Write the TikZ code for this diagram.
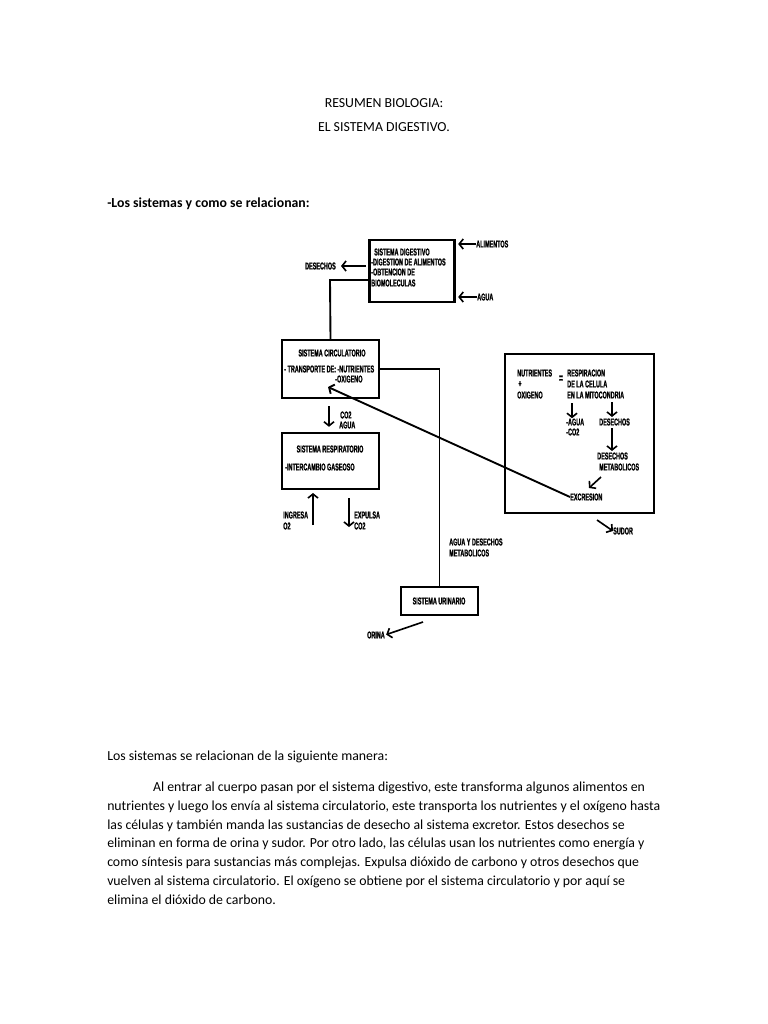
\documentclass[tikz,border=0pt]{standalone}
\usepackage{fontspec}
\setmainfont{Carlito}
\newfontfamily\diagfont[FakeStretch=0.55, FakeBold=1.2]{Liberation Sans Bold}
\usetikzlibrary{arrows.meta}

\tikzset{
  txt/.style={font=\fontsize{11}{14.9}\selectfont, inner sep=0pt},
  lbl/.style={font=\diagfont\fontsize{7.9}{8}\selectfont, inner sep=0pt},
  sysbox/.style 2 args={draw, line width=1.9pt, minimum width=#1*0.797pt, minimum height=#2*0.797pt, inner sep=0pt},
  arr/.style={->, line width=1.3pt},
  wire/.style={line width=1.5pt}
}

\begin{document}
\begin{tikzpicture}[x=0.797pt, y=-0.797pt, >={Straight Barb[length=3.2pt,width=8pt]}]
	\useasboundingbox[fill=white] (0,0) rectangle (768,1024);

	% encabezado
	\node[txt] (tit1) at (384, 103) {RESUMEN BIOLOGIA:};
	\node[txt] (tit2) at (384, 127) {EL SISTEMA DIGESTIVO.};
	\node[txt, anchor=west, font=\fontsize{11}{14.9}\selectfont\bfseries] (sub) at (107, 204) {-Los sistemas y como se relacionan:};

	% cajas
	\node[sysbox={85}{62}] (dig) at (412, 271) {};
	\node[sysbox={97}{58}] (circ) at (330.5, 369) {};
	\node[sysbox={97}{56}] (resp) at (330.5, 461) {};
	\node[sysbox={149}{159}] (cel) at (579.5, 433.5) {};
	\node[sysbox={77}{28}] (uri) at (439.5, 601) {};

	% sistema digestivo
	\node[lbl, anchor=west] (digt) at (374, 252) {SISTEMA DIGESTIVO};
	\node[lbl, anchor=west] (dig1) at (371, 262) {-DIGESTION DE ALIMENTOS};
	\node[lbl, anchor=west] (dig2) at (371, 272) {-OBTENCION DE};
	\node[lbl, anchor=west] (dig3) at (371, 283) {BIOMOLECULAS};
	\node[lbl, anchor=west] (alim) at (476, 244) {ALIMENTOS};
	\node[lbl, anchor=west] (agua) at (477, 297) {AGUA};
	\node[lbl, anchor=east] (des) at (336, 266) {DESECHOS};
	\draw[arr, shorten >=2pt] (alim.west) -- (dig.east |- alim.west);
	\draw[arr, shorten >=2pt] (agua.west) -- (dig.east |- agua.west);
	\draw[arr, shorten <=2pt, shorten >=4pt] (dig.west |- des.east) -- (des.east);

	% sistema circulatorio
	\node[lbl] (circt) at (332, 353) {SISTEMA CIRCULATORIO};
	\node[lbl, anchor=west] (circ1) at (284, 369) {- TRANSPORTE DE: -NUTRIENTES};
	\node[lbl, anchor=west] (circ2) at (335, 379) {-OXIGENO};
	\coordinate (dig-out) at (330, 280);
	\draw[wire] (dig.west |- dig-out) -- (dig-out) -- (circ.north);
	\draw[wire] (circ.east) -| (uri.north);
	\node[lbl, anchor=west] (co2a) at (340, 415) {CO2};
	\node[lbl, anchor=west] (aguaa) at (339, 425) {AGUA};
	\draw[arr, shorten <=5.5pt, shorten >=4pt] ([xshift=-1.2pt]circ.south) -- ([xshift=-1.2pt]resp.north);

	% sistema respiratorio
	\node[lbl] (respt) at (330, 449) {SISTEMA RESPIRATORIO};
	\node[lbl, anchor=west] (resp1) at (285, 467) {-INTERCAMBIO GASEOSO};
	\node[lbl, anchor=west] (ingr) at (283, 515) {INGRESA};
	\node[lbl, anchor=west] (o2) at (283, 526) {O2};
	\node[lbl, anchor=west] (expu) at (354, 515) {EXPULSA};
	\node[lbl, anchor=west] (co2b) at (354, 526) {CO2};
	\coordinate (in-a) at (313, 525);
	\coordinate (in-b) at (313, 493);
	\coordinate (out-a) at (349, 498);
	\coordinate (out-b) at (349, 527);
	\draw[arr] (in-a) -- (in-b);
	\draw[arr] (out-a) -- (out-b);

	% celula
	\node[lbl, anchor=west] (nut) at (517, 373) {NUTRIENTES};
	\node[lbl] (mas) at (520, 384) {+};
	\node[lbl, anchor=west] (oxi) at (517, 395) {OXIGENO};
	\node[lbl, font=\diagfont\fontsize{10}{10}\selectfont] (igual) at (561, 379) {=};
	\node[lbl, anchor=west] (rsp1) at (567, 373) {RESPIRACION};
	\node[lbl, anchor=west] (rsp2) at (567, 384) {DE LA CELULA};
	\node[lbl, anchor=west] (rsp3) at (567, 395) {EN LA MITOCONDRIA};
	\node[lbl, anchor=west] (ag) at (566, 422) {-AGUA};
	\node[lbl, anchor=west] (co2c) at (566, 432) {-CO2};
	\node[lbl, anchor=west] (des2) at (599, 422) {DESECHOS};
	\node[lbl, anchor=west] (desm1) at (597, 456) {DESECHOS};
	\node[lbl, anchor=west] (desm2) at (599, 467) {METABOLICOS};
	\node[lbl, anchor=west] (excr) at (570, 497) {EXCRESION};
	\draw[arr] (572, 403) -- (ag.north -| 572, 0);
	\draw[arr, shorten >=1pt] (612, 402) -- (des2.north -| 612, 0);
	\draw[arr, shorten <=2pt, shorten >=1pt] (des2.south -| 612, 0) -- (desm1.north -| 612, 0);
	\draw[arr] (601, 477) -- (589, 488);
	\coordinate (circ-in) at (328, 387);
	\draw[arr, line width=1.5pt] (excr.west) -- (circ-in);
	\node[lbl, anchor=west] (sud) at (613, 531) {SUDOR};
	\coordinate (sud-a) at (597, 520);
	\draw[arr] (sud-a) -- (sud.west);

	% sistema urinario
	\node[lbl] (urit) at (439, 601) {SISTEMA URINARIO};
	\node[lbl, anchor=west] (aym1) at (449, 542) {AGUA Y DESECHOS};
	\node[lbl, anchor=west] (aym2) at (449, 553) {METABOLICOS};
	\node[lbl, anchor=east] (ori) at (385, 635) {ORINA};
	\coordinate (uri-out) at (423, 622);
	\draw[arr, shorten >=1pt] (uri-out) -- (ori.east);

	% texto
	\node[txt, anchor=west] (intro) at (107, 757) {Los sistemas se relacionan de la siguiente manera:};
	\node[txt, anchor=north west, align=left] (par) at (107, 782) {\hspace*{36.5pt}Al entrar al cuerpo pasan por el sistema digestivo, este transforma algunos alimentos en\\
nutrientes y luego los envía al sistema circulatorio, este transporta los nutrientes y el oxígeno hasta\\
las células y también manda las sustancias de desecho al sistema excretor. Estos desechos se\\
eliminan en forma de orina y sudor. Por otro lado, las células usan los nutrientes como energía y\\
como síntesis para sustancias más complejas. Expulsa dióxido de carbono y otros desechos que\\
vuelven al sistema circulatorio. El oxígeno se obtiene por el sistema circulatorio y por aquí se\\
elimina el dióxido de carbono.};
\end{tikzpicture}
\end{document}
